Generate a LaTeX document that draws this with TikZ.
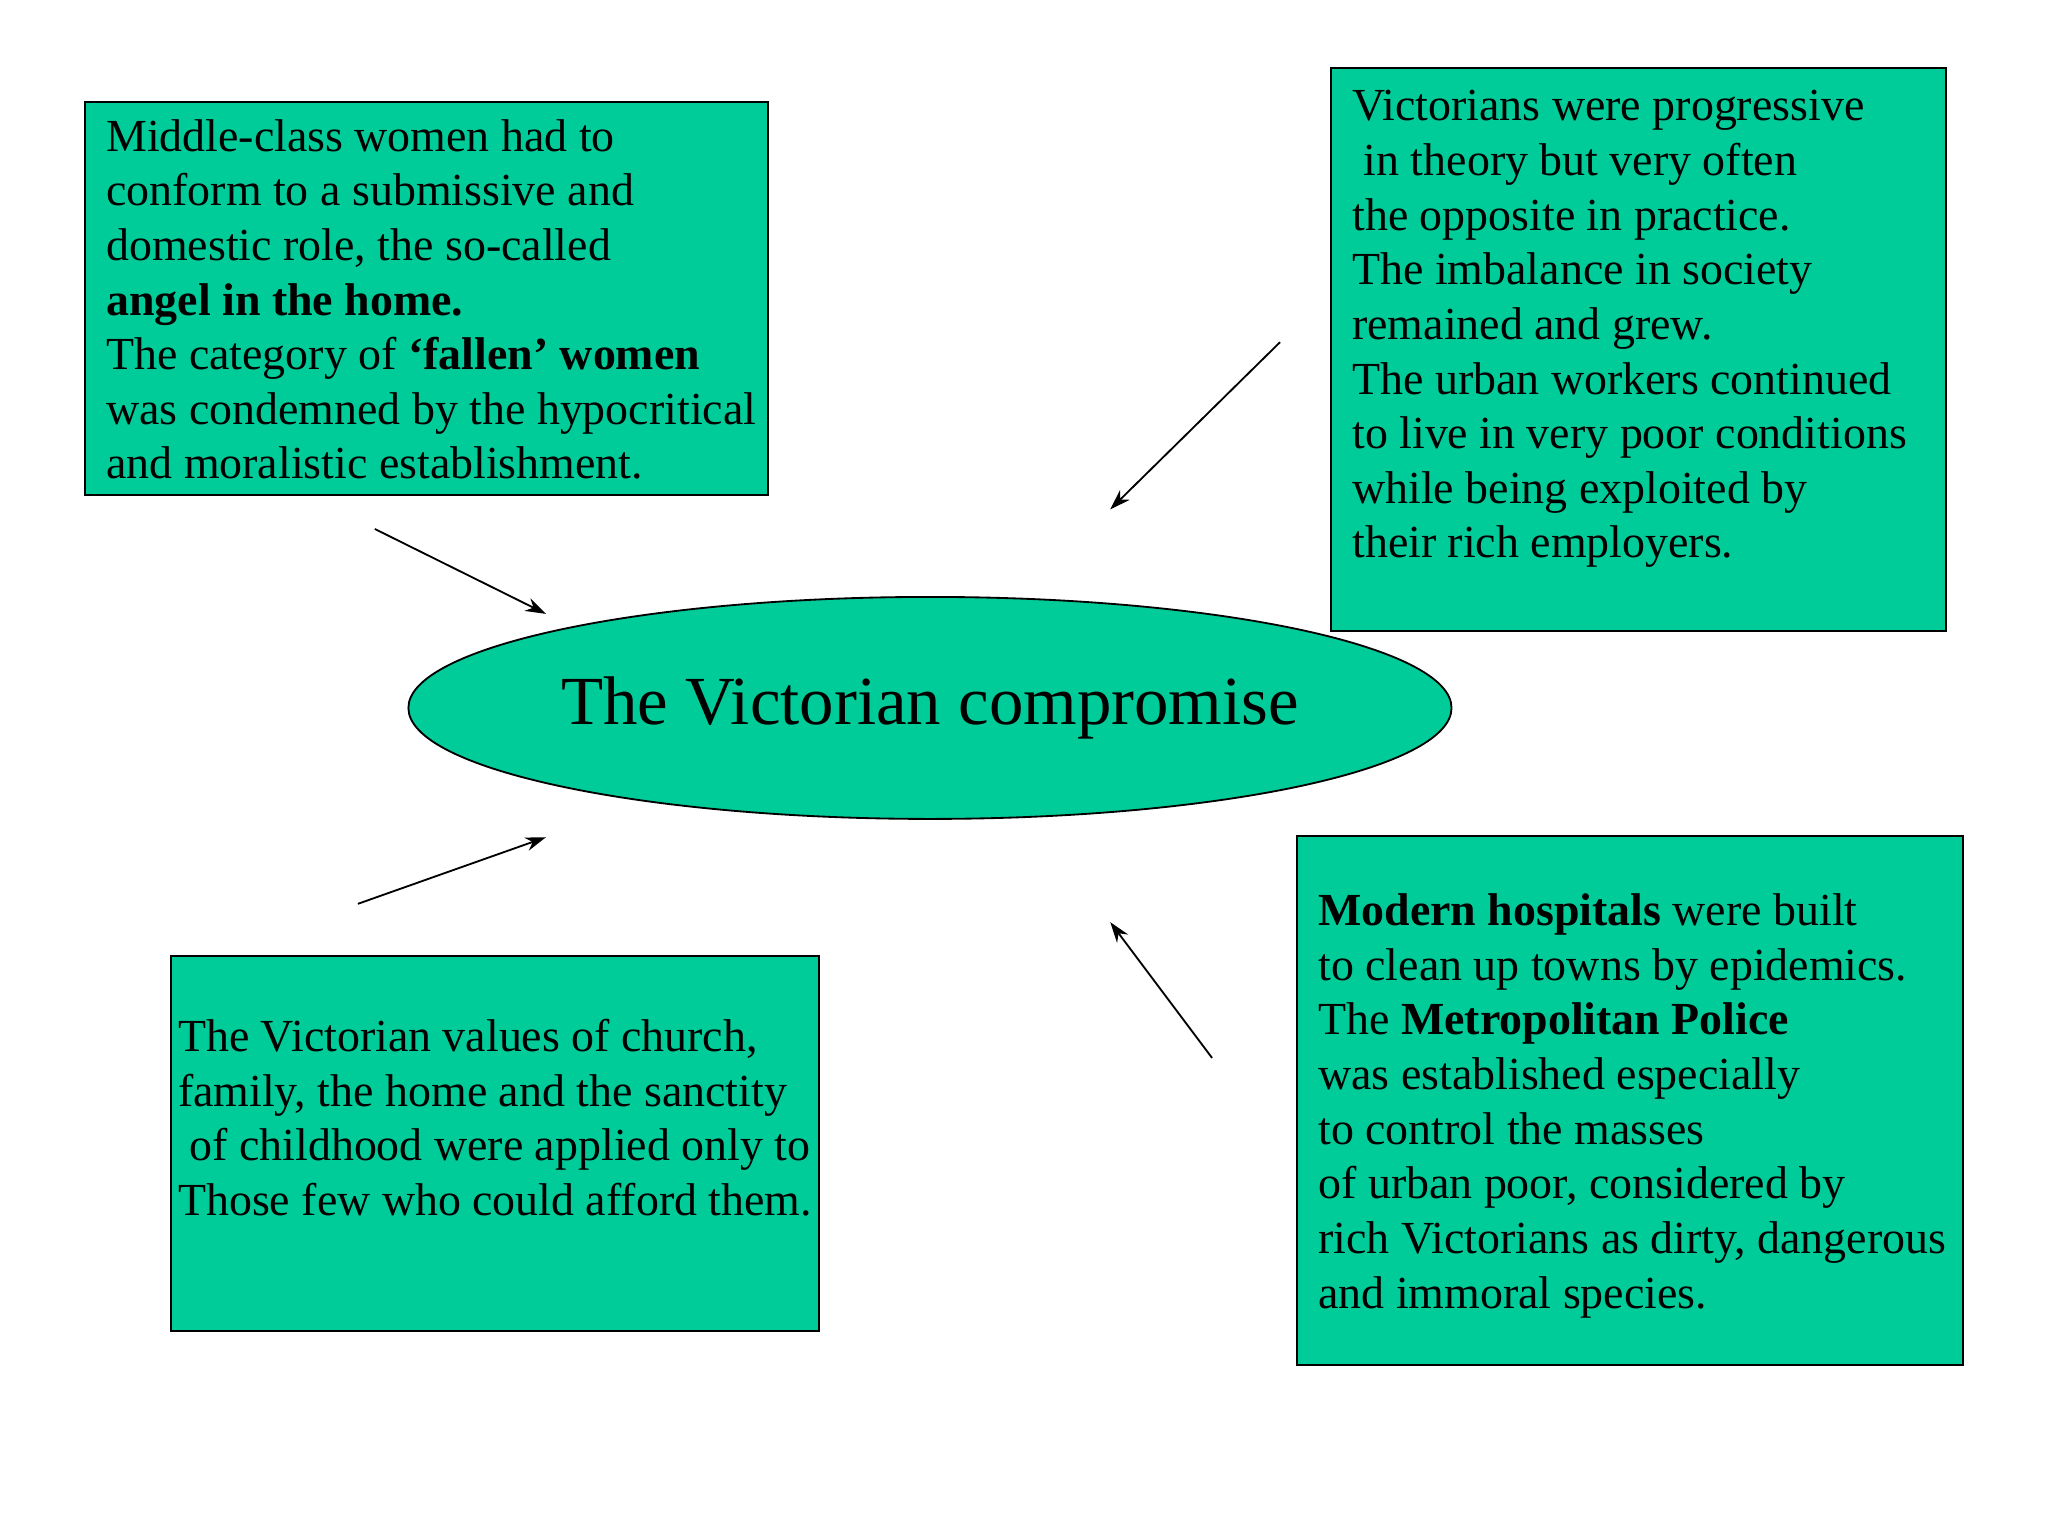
\documentclass[tikz,border=0pt]{standalone}
\usepackage{fontspec}
\setmainfont{Liberation Serif}
\usetikzlibrary{shapes.geometric,arrows.meta}
\definecolor{boxgreen}{HTML}{00CC99}
\tikzset{
  box/.style={draw=black, fill=boxgreen, line width=0.8pt},
  txt/.style={anchor=north west, inner sep=0pt, align=left, font=\fontsize{20}{23.8}\selectfont},
  arr/.style={-{Stealth[length=9pt,width=6pt]}, line width=0.8pt}
}
\begin{document}
\begin{tikzpicture}[x=0.02cm,y=-0.02cm]
\useasboundingbox (0,0) rectangle (1568,1176);
\fill[white] (0,0) rectangle (1568,1176);
\draw[box] (65,78) rectangle (588,379);
\draw[box] (1019,52) rectangle (1490,483);
\draw[box] (131,732) rectangle (627,1019);
\draw[box] (993,640) rectangle (1503,1045);
\node[box, ellipse, minimum width=588\pgflinewidth*0+11.76cm, minimum height=3.4cm, inner sep=0pt, font=\fontsize{30}{36}\selectfont] (c) at (712,542) {The Victorian compromise};
\node[txt] (t1) at (81,91) {Middle-class women had to\\conform to a submissive and\\domestic role, the so-called\\\textbf{angel in the home.}\\The category of \textbf{‘fallen’ women}\\was condemned by the hypocritical\\and moralistic establishment.};
\node[txt] (t2) at (1035,69) {Victorians were progressive\\\hspace{0.25em}in theory but very often\\the opposite in practice.\\The imbalance in society\\remained and grew.\\The urban workers continued\\to live in very poor conditions\\while being exploited by\\their rich employers.};
\node[txt] (t3) at (136,780) {The Victorian values of church,\\family, the home and the sanctity\\\hspace{0.25em}of childhood were applied only to\\Those few who could afford them.};
\node[txt] (t4) at (1009,684) {\textbf{Modern hospitals} were built\\to clean up towns by epidemics.\\The \textbf{Metropolitan Police}\\was established especially\\to control the masses\\of urban poor, considered by\\rich Victorians as dirty, dangerous\\and immoral species.};
\coordinate (a1s) at (287,405); \coordinate (a1e) at (418,470);
\coordinate (a2s) at (980,262); \coordinate (a2e) at (850,390);
\coordinate (a3s) at (274,692); \coordinate (a3e) at (418,641);
\coordinate (a4s) at (928,810); \coordinate (a4e) at (850,706);
\draw[arr] (a1s) -- (a1e);
\draw[arr] (a2s) -- (a2e);
\draw[arr] (a3s) -- (a3e);
\draw[arr] (a4s) -- (a4e);
\end{tikzpicture}
\end{document}
